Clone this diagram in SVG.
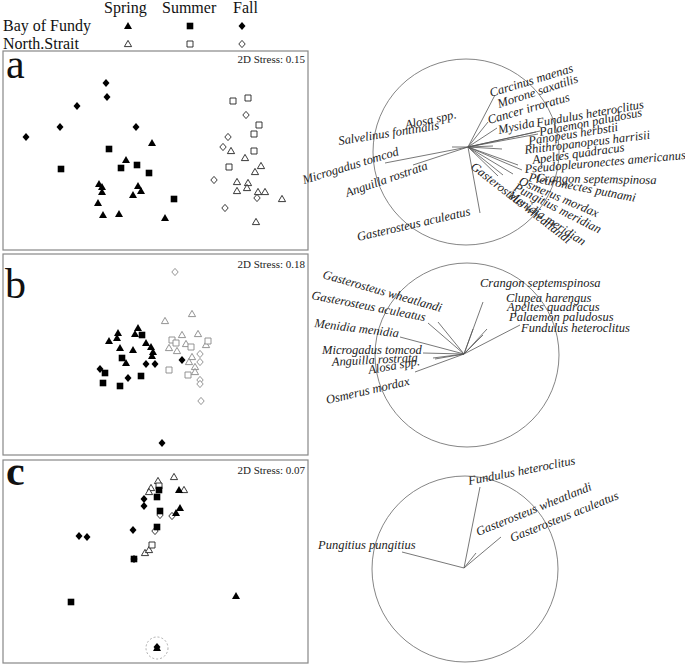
<svg xmlns="http://www.w3.org/2000/svg" width="685" height="666" viewBox="0 0 685 666">
<defs>
<style>
.lg{font-family:"Liberation Serif",serif;font-size:16px;fill:#111}
.pl{font-family:"Liberation Serif",serif;font-size:42px;fill:#111}
.st{font-family:"Liberation Serif",serif;font-size:11px;fill:#222;text-anchor:end}
.sp{font-family:"Liberation Serif",serif;font-size:12.5px;font-style:italic;fill:#222}
.fr{fill:#fff;stroke:#888;stroke-width:1.2}
.ci{fill:none;stroke:#777;stroke-width:0.9}
.vl{stroke:#555;stroke-width:0.8}
.f{fill:#000}
.o{fill:#fff;stroke:#222;stroke-width:0.9}
.og{fill:#fff;stroke:#888;stroke-width:0.9}
</style>
<path id="T" d="M0,-4 L4,3 L-4,3Z"/>
<path id="S" d="M-3.3,-3.3 H3.3 V3.3 H-3.3Z"/>
<path id="D" d="M0,-4 L3.5,0 L0,4 L-3.5,0Z"/>
<path id="t" d="M0,-3.6 L3.6,2.6 L-3.6,2.6Z"/>
<path id="s" d="M-3,-3 H3 V3 H-3Z"/>
<path id="d" d="M0,-3.6 L3.2,0 L0,3.6 L-3.2,0Z"/>
</defs>
<rect width="685" height="666" fill="#fff"/>
<g id="legend">
<text class="lg" x="104" y="13">Spring</text>
<text class="lg" x="162" y="13">Summer</text>
<text class="lg" x="233" y="13">Fall</text>
<text class="lg" x="3" y="31">Bay of Fundy</text>
<text class="lg" x="3" y="49">North.Strait</text>
<use href="#T" class="f" x="128" y="26"/><use href="#S" class="f" x="190" y="26"/><use href="#D" class="f" x="242" y="26"/>
<use href="#t" class="o" x="128" y="44"/><use href="#s" class="o" x="190" y="44"/><use href="#d" class="o" x="242" y="44"/>
</g>
<g id="panel-a">
<rect class="fr" x="3" y="51" width="305" height="199"/>
<text class="pl" x="6" y="78">a</text>
<text class="st" x="305" y="63">2D Stress: 0.15</text>
<g class="f"><use href="#D" x="106" y="83"/><use href="#D" x="107" y="97"/><use href="#D" x="77" y="106"/><use href="#D" x="60" y="127"/><use href="#D" x="26" y="137"/><use href="#D" x="136" y="127"/>
<use href="#S" x="109" y="149"/><use href="#S" x="61" y="169"/><use href="#S" x="121" y="168"/><use href="#S" x="137" y="165"/><use href="#S" x="149" y="173"/><use href="#S" x="174" y="199"/>
<use href="#T" x="152" y="143"/><use href="#T" x="126" y="160"/><use href="#T" x="99" y="184"/><use href="#T" x="102" y="187"/><use href="#T" x="102" y="192"/><use href="#T" x="138" y="186"/><use href="#T" x="141" y="191"/><use href="#T" x="133" y="195"/><use href="#T" x="98" y="203"/><use href="#T" x="103" y="215"/><use href="#T" x="119" y="214"/><use href="#T" x="165" y="218"/></g>
<g class="o"><use href="#s" x="233" y="101"/><use href="#s" x="248" y="98"/><use href="#s" x="259" y="125"/><use href="#s" x="254" y="134"/><use href="#s" x="254" y="151"/><use href="#s" x="229" y="167"/>
<use href="#d" x="246" y="115"/><use href="#d" x="228" y="137"/><use href="#d" x="223" y="147"/><use href="#d" x="214" y="180"/><use href="#d" x="257" y="198"/><use href="#d" x="225" y="208"/>
<use href="#t" x="231" y="151"/><use href="#t" x="245" y="158"/><use href="#t" x="261" y="166"/><use href="#t" x="255" y="172"/><use href="#t" x="237" y="182"/><use href="#t" x="248" y="183"/><use href="#t" x="247" y="188"/><use href="#t" x="237" y="191"/><use href="#t" x="258" y="192"/><use href="#t" x="265" y="192"/><use href="#t" x="282" y="199"/><use href="#t" x="256" y="222"/></g>
</g>
<g id="panel-b">
<rect class="fr" x="3" y="254" width="305" height="201"/>
<text class="pl" x="5" y="298">b</text>
<text class="st" x="305" y="268">2D Stress: 0.18</text>
<g class="og"><use href="#d" x="175" y="272"/><use href="#d" x="200" y="354"/><use href="#d" x="200" y="362"/><use href="#d" x="200" y="380"/><use href="#d" x="200" y="384"/><use href="#d" x="201" y="401"/>
<use href="#t" x="165" y="321"/><use href="#t" x="192" y="314"/><use href="#t" x="182" y="335"/><use href="#t" x="198" y="334"/><use href="#t" x="186" y="344"/><use href="#t" x="206" y="345"/><use href="#t" x="169" y="348"/><use href="#t" x="177" y="351"/><use href="#t" x="192" y="357"/><use href="#t" x="189" y="362"/><use href="#t" x="195" y="367"/><use href="#t" x="195" y="372"/>
<use href="#s" x="172" y="340"/><use href="#s" x="176" y="343"/><use href="#s" x="191" y="347"/><use href="#s" x="208" y="341"/><use href="#s" x="169" y="370"/><use href="#s" x="188" y="375"/></g>
<g class="f"><use href="#T" x="138" y="328"/><use href="#T" x="135" y="334"/><use href="#T" x="118" y="333"/><use href="#T" x="117" y="338"/><use href="#T" x="109" y="341"/><use href="#T" x="146" y="343"/><use href="#T" x="120" y="348"/><use href="#T" x="133" y="350"/><use href="#T" x="151" y="347"/><use href="#T" x="153" y="352"/><use href="#T" x="152" y="356"/><use href="#T" x="126" y="363"/>
<use href="#S" x="142" y="335"/><use href="#S" x="122" y="358"/><use href="#S" x="105" y="373"/><use href="#S" x="103" y="383"/><use href="#S" x="120" y="386"/><use href="#S" x="141" y="376"/>
<use href="#D" x="146" y="364"/><use href="#D" x="155" y="364"/><use href="#D" x="182" y="360"/><use href="#D" x="100" y="369"/><use href="#D" x="128" y="378"/><use href="#D" x="162" y="443"/></g>
</g>
<g id="panel-c">
<rect class="fr" x="3" y="460" width="305" height="203"/>
<text class="pl" x="6" y="485" font-weight="bold">c</text>
<text class="st" x="305" y="474">2D Stress: 0.07</text>
<circle cx="157" cy="648" r="11" fill="none" stroke="#999" stroke-width="0.8" stroke-dasharray="2,2"/>
<g class="o"><use href="#t" x="174" y="477"/><use href="#t" x="158" y="481"/><use href="#t" x="151" y="488"/><use href="#t" x="149" y="492"/><use href="#t" x="184" y="490"/><use href="#t" x="145" y="553"/><use href="#t" x="149" y="550"/>
<use href="#s" x="159" y="486"/><use href="#s" x="152" y="545"/>
<use href="#d" x="160" y="515"/><use href="#d" x="172" y="516"/><use href="#d" x="155" y="531"/></g>
<g class="f"><use href="#T" x="179" y="490"/><use href="#T" x="180" y="508"/><use href="#T" x="236" y="596"/><use href="#T" x="176" y="513"/>
<use href="#S" x="159" y="490"/><use href="#S" x="157" y="497"/><use href="#S" x="160" y="511"/><use href="#S" x="157" y="527"/><use href="#S" x="71" y="602"/><use href="#S" x="134" y="559"/>
<use href="#D" x="144" y="499"/><use href="#D" x="144" y="506"/><use href="#D" x="133" y="530"/><use href="#D" x="79" y="536"/><use href="#D" x="87" y="537"/><use href="#D" x="134" y="559"/>
<use href="#T" x="157" y="648"/><use href="#D" x="157" y="647"/></g>
</g>
<g id="connectors">
<circle class="ci" cx="466" cy="152" r="93"/>
<circle class="ci" cx="467" cy="355" r="92"/>
<circle class="ci" cx="465" cy="569" r="93"/>
<g class="vl">
<line x1="468" y1="147" x2="495" y2="95"/><line x1="468" y1="147" x2="488" y2="122"/><line x1="468" y1="147" x2="497" y2="128"/>
<line x1="468" y1="147" x2="540" y2="131"/><line x1="468" y1="147" x2="538" y2="134"/><line x1="468" y1="147" x2="536" y2="132"/>
<line x1="468" y1="147" x2="502" y2="149"/><line x1="468" y1="147" x2="493" y2="146"/>
<line x1="468" y1="147" x2="522" y2="170"/><line x1="468" y1="147" x2="518" y2="165"/><line x1="468" y1="147" x2="513" y2="174"/><line x1="468" y1="147" x2="503" y2="175"/><line x1="468" y1="147" x2="498" y2="176"/>
<line x1="468" y1="147" x2="480" y2="213"/><line x1="468" y1="147" x2="385" y2="163"/><line x1="468" y1="147" x2="413" y2="165"/><line x1="468" y1="147" x2="452" y2="147"/>
<line x1="464" y1="354" x2="483" y2="302"/><line x1="464" y1="354" x2="473" y2="329"/><line x1="464" y1="354" x2="487" y2="329"/><line x1="464" y1="354" x2="483" y2="335"/><line x1="464" y1="354" x2="520" y2="325"/>
<line x1="464" y1="354" x2="438" y2="322"/><line x1="464" y1="354" x2="428" y2="323"/><line x1="464" y1="354" x2="400" y2="337"/><line x1="464" y1="354" x2="423" y2="353"/><line x1="464" y1="354" x2="433" y2="358"/><line x1="464" y1="354" x2="435" y2="359"/><line x1="464" y1="354" x2="415" y2="372"/>
<line x1="464" y1="568" x2="480" y2="487"/><line x1="464" y1="568" x2="476" y2="553"/><line x1="464" y1="568" x2="501" y2="537"/><line x1="464" y1="568" x2="402" y2="552"/>
</g>
</g>
<g id="species-a" class="sp">
<text transform="translate(491,97) rotate(-17)">Carcinus maenas</text>
<text transform="translate(499,108) rotate(-18)">Morone saxatilis</text>
<text transform="translate(489,124) rotate(-16)">Cancer irroratus</text>
<text transform="translate(499,134) rotate(-12)">Mysida</text>
<text transform="translate(537,127) rotate(-10)">Fundulus heteroclitus</text>
<text transform="translate(540,136) rotate(-11)">Palaemon paludosus</text>
<text transform="translate(529,145) rotate(-9)">Panopeus herbstii</text>
<text transform="translate(525,154) rotate(-7)">Rhithropanopeus harrisii</text>
<text transform="translate(533,164) rotate(-8)">Apeltes quadracus</text>
<text transform="translate(525,173) rotate(-5)">Pseudopleuronectes americanus</text>
<text transform="translate(536,182) rotate(1)">Crangon septemspinosa</text>
<text transform="translate(528,181) rotate(11)">Pleuronectes putnami</text>
<text transform="translate(518,184) rotate(23)">Osmerus mordax</text>
<text transform="translate(513,190) rotate(27)">Pungitius meridian</text>
<text transform="translate(507,197) rotate(33)">Menidia meridian</text>
<text transform="translate(470,168) rotate(38)">Gasterosteus wheatlandi</text>
<text transform="translate(339,145) rotate(-9)">Salvelinus fontinalis</text>
<text transform="translate(406,129) rotate(-12)">Alosa spp.</text>
<text transform="translate(304,184) rotate(-17)">Microgadus tomcod</text>
<text transform="translate(347,197) rotate(-19)">Anguilla rostrata</text>
<text transform="translate(358,241) rotate(-13)">Gasterosteus aculeatus</text>
</g>
<g id="species-b" class="sp">
<text x="480" y="287">Crangon septemspinosa</text>
<text x="506" y="302">Clupea harengus</text>
<text x="507" y="311">Apeltes quadracus</text>
<text x="509" y="321">Palaemon paludosus</text>
<text x="521" y="332">Fundulus heteroclitus</text>
<text transform="translate(322,278) rotate(16)">Gasterosteus wheatlandi</text>
<text transform="translate(311,299) rotate(11)">Gasterosteus aculeatus</text>
<text transform="translate(314,327) rotate(7)">Menidia menidia</text>
<text x="322" y="354">Microgadus tomcod</text>
<text transform="translate(332,366) rotate(-3)">Anguilla rostrata</text>
<text transform="translate(369,374) rotate(-10)">Alosa spp.</text>
<text transform="translate(327,404) rotate(-13)">Osmerus mordax</text>
</g>
<g id="species-c" class="sp">
<text transform="translate(469,485) rotate(-11)">Fundulus heteroclitus</text>
<text transform="translate(478,536) rotate(-22)">Gasterosteus wheatlandi</text>
<text transform="translate(512,542) rotate(-22)">Gasterosteus aculeatus</text>
<text x="318" y="549">Pungitius pungitius</text>
</g>
</svg>
